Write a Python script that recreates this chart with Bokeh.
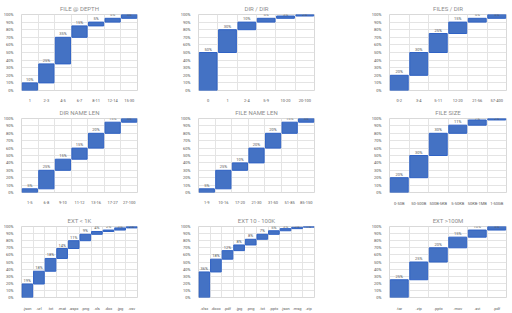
from bokeh.plotting import figure
from bokeh.layouts import row, column
from bokeh.models import Range1d, FixedTicker, Title, ColumnDataSource
from bokeh.core.properties import value
from bokeh.embed import file_html
from bokeh.resources import INLINE

FONT = "Roboto"
GRAY = "#595959"

title1 = "FILE @ DEPTH"
cats1 = ["1", "2-3", "4-5", "6-7", "8-11", "12-14", "15-30"]
vals1 = [10, 25, 35, 15, 5, 5, 5]

title2 = "DIR / DIR"
cats2 = ["0", "1", "2-4", "5-9", "10-20", "20-100"]
vals2 = [50, 30, 10, 5, 3, 2]

title3 = "FILES / DIR"
cats3 = ["0-2", "3-4", "5-11", "12-20", "21-56", "57-400"]
vals3 = [20, 30, 25, 15, 5, 5]

title4 = "DIR NAME LEN"
cats4 = ["1-5", "6-8", "9-10", "11-12", "13-16", "17-27", "27-100"]
vals4 = [5, 25, 15, 15, 20, 15, 5]

title5 = "FILE NAME LEN"
cats5 = ["1-9", "10-16", "17-20", "21-30", "31-50", "51-85", "85-150"]
vals5 = [5, 25, 10, 20, 20, 15, 5]

title6 = "FILE SIZE"
cats6 = ["0-50B", "50-500B", "500B-5KB", "5-50KB", "50KB-1MB", "1-50GB"]
vals6 = [20, 30, 30, 11, 7, 2]

title7 = "EXT < 1K"
cats7 = [".json", ".url", ".txt", ".mat", ".aspx", ".png", ".xls", ".dox", ".jpg", ".csv"]
vals7 = [19, 18, 18, 14, 11, 9, 4, 2, 3, 2]

title8 = "EXT 10 - 100K"
cats8 = [".xlsx", ".docx", ".pdf", ".jpg", ".png", ".txt", ".pptx", ".json", ".msg", ".zip"]
vals8 = [36, 18, 12, 8, 8, 7, 5, 3, 2, 1]

title9 = "EXT >100M"
cats9 = [".tar", ".zip", ".pptx", ".mov", ".avi", ".pdf"]
vals9 = [25, 25, 20, 15, 10, 5]


def panel(title, cats, vals, width, height, bl, br, bt, bb):
    n = len(cats)
    starts, ends = [], []
    acc = 0
    for v in vals:
        starts.append(acc)
        acc += v
        ends.append(acc)
    xs = list(range(n))
    src = ColumnDataSource(dict(
        left=[x + 0.04 for x in xs], right=[x + 0.96 for x in xs],
        bottom=starts, top=ends, xc=[x + 0.5 for x in xs],
        ly=[min(e, 95) for e in ends], lbl=[f"{v}%" for v in vals]))
    p = figure(width=width, height=height, output_backend="svg", toolbar_location=None,
               x_range=Range1d(0, n), y_range=Range1d(0, 100),
               min_border_left=bl, min_border_right=br, min_border_top=bt, min_border_bottom=bb)
    p.background_fill_color = "white"
    p.border_fill_color = "white"
    p.outline_line_color = "#D9D9D9"
    p.xaxis.ticker = FixedTicker(ticks=[x + 0.5 for x in xs])
    p.xaxis.major_label_overrides = {x + 0.5: c for x, c in zip(xs, cats)}
    p.yaxis.ticker = FixedTicker(ticks=list(range(0, 101, 10)))
    p.yaxis.major_label_overrides = {t: f"{t}%" for t in range(0, 101, 10)}
    for ax in (p.xaxis, p.yaxis):
        ax.axis_line_color = None
        ax.major_tick_line_color = None
        ax.minor_tick_line_color = None
        ax.major_label_text_font = FONT
        ax.major_label_text_font_size = "4px"
        ax.major_label_text_color = GRAY
        ax.major_label_standoff = 2
    p.xgrid.ticker = FixedTicker(ticks=list(range(n + 1)))
    p.xgrid.grid_line_color = "#E4E4E4"
    p.ygrid.grid_line_color = "#E4E4E4"
    p.quad(left="left", right="right", bottom="bottom", top="top", source=src,
           fill_color="#4472C4", line_color="#2F62C4", line_width=1)
    p.text(x="xc", y="ly", text="lbl", source=src, text_font=value(FONT),
           text_font_size="4px", text_color=GRAY, text_align="center",
           text_baseline="bottom", y_offset=-1)
    p.add_layout(Title(text=title, align="center", text_font=FONT,
                       text_font_size="6px", text_color="#8C8C8C", text_font_style="normal",
                       standoff=5, offset=0), "above")
    return p


r1 = row(panel(title1, cats1, vals1, 177, 104, 12, 40, 14, 14),
         panel(title2, cats2, vals2, 191, 104, 12, 54, 14, 14),
         panel(title3, cats3, vals3, 144, 104, 12, 6, 14, 14))
r2 = row(panel(title4, cats4, vals4, 177, 104, 12, 40, 13, 14),
         panel(title5, cats5, vals5, 191, 104, 12, 54, 13, 14),
         panel(title6, cats6, vals6, 144, 104, 12, 6, 13, 14))
r3 = row(panel(title7, cats7, vals7, 177, 105, 12, 40, 18, 10),
         panel(title8, cats8, vals8, 191, 105, 12, 54, 18, 10),
         panel(title9, cats9, vals9, 144, 105, 12, 6, 18, 10))
layout = column(r1, r2, r3)

open("out.html", "w").write(file_html(layout, INLINE))
